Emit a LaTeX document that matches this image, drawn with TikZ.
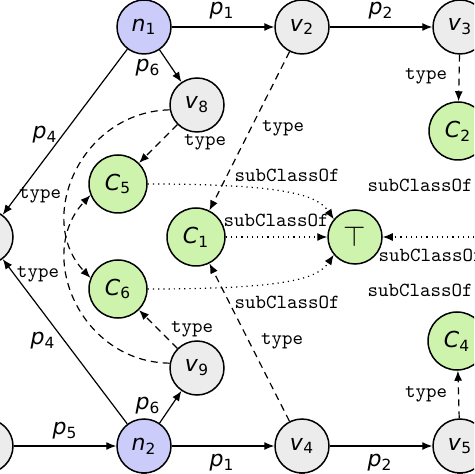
\documentclass[tikz,border=0pt]{standalone}
\usepackage{fontspec}
\setmainfont{DejaVu Sans}
\usetikzlibrary{arrows.meta}
\definecolor{lav}{RGB}{204,204,250}
\definecolor{gfill}{RGB}{236,236,236}
\definecolor{cgreen}{RGB}{206,243,172}
\newcommand\ml[2]{\textit{#1}\textsubscript{#2}}
\begin{document}
\begin{tikzpicture}[x=0.5pt,y=-0.5pt,
  vnode/.style={circle,draw,line width=0.75pt,minimum size=27pt,inner sep=0pt,fill=gfill,font=\fontsize{11}{13}\selectfont},
  cnode/.style={vnode,fill=cgreen,minimum size=29pt},
  nnode/.style={vnode,fill=lav},
  rel/.style={-{Latex[length=5pt,width=4pt]},line width=0.6pt},
  typ/.style={rel,dash pattern=on 3.5pt off 2.5pt},
  sub/.style={rel,dash pattern=on 0.6pt off 2pt},
  stub/.style={line width=3pt,gray!60!black},
  lab/.style={font=\ttfamily\fontsize{10}{12}\selectfont,inner sep=1pt},
  plab/.style={font=\fontsize{11}{13}\selectfont,inner sep=1pt}]
\useasboundingbox (0,0) rectangle (474,474);
\clip (0,0) rectangle (474,474);
% stubs going out of the picture
\draw[stub] (144,10) -- (144,-20);
\draw[stub] (302,10) -- (302,-20);
\draw[stub] (460,10) -- (460,-20);
\draw[stub] (144,460) -- (144,500);
\draw[stub] (302,460) -- (302,500);
\draw[stub] (460,460) -- (460,500);
% nodes
\node[nnode] (n1) at (144,27) {\ml{n}{1}};
\node[vnode] (v2) at (302,27) {\ml{v}{2}};
\node[vnode] (v3) at (460,27) {\ml{v}{3}};
\node[vnode] (v8) at (197,105) {\ml{v}{8}};
\node[cnode] (C2) at (458,131) {\ml{C}{2}};
\node[cnode] (C5) at (118,184) {\ml{C}{5}};
\node[cnode] (C1) at (196,237) {\ml{C}{1}};
\node[cnode,minimum size=27pt,font=\fontsize{15}{15}\selectfont] (T) at (355,237) {$\top$};
\node[vnode] (L) at (-14,237) {};
\node[cnode] (C6) at (118,289) {\ml{C}{6}};
\node[cnode] (C4) at (457,341) {\ml{C}{4}};
\node[vnode] (v9) at (197,368) {\ml{v}{9}};
\node[nnode] (n2) at (144,446) {\ml{n}{2}};
\node[vnode] (BL) at (-14,446) {};
\node[vnode] (v4) at (302,446) {\ml{v}{4}};
\node[vnode] (v5) at (460,446) {\ml{v}{5}};
\coordinate (rt) at (490,237);
% solid edges
\draw[rel] (n1) -- (v2);
\draw[rel] (v2) -- (v3);
\draw[rel] (n1) -- (v8);
\draw[rel] (n1) -- (L);
\draw[rel] (n2) -- (v9);
\draw[rel] (n2) -- (L);
\draw[rel] (BL) -- (n2);
\draw[rel] (n2) -- (v4);
\draw[rel] (v4) -- (v5);
% type edges
\draw[typ] (v8) -- (C5);
\draw[typ] (v9) -- (C6);
\draw[typ] (v2) -- (C1);
\draw[typ] (v4) -- (C1);
\draw[typ] (v3) -- (C2);
\draw[typ] (v5) -- (C4);
\draw[typ] (v8.190) .. controls (80,112) and (35,220) .. (C6.158);
\draw[typ] (v9.170) .. controls (80,362) and (35,254) .. (C5.202);
% subClassOf edges
\draw[sub] (C5.east) .. controls (290,184) and (318,196) .. (T.140);
\draw[sub] (C1) -- (T);
\draw[sub] (C6.east) .. controls (290,289) and (318,278) .. (T.220);
\draw[sub] (rt) -- (T);
% labels
\node[plab] at (222,11) {\ml{p}{1}};
\node[plab] at (381,11) {\ml{p}{2}};
\node[plab] at (148,68) {\ml{p}{6}};
\node[plab] at (45,135) {\ml{p}{4}};
\node[plab] at (43,341) {\ml{p}{4}};
\node[plab] at (148,406) {\ml{p}{6}};
\node[plab] at (65,431) {\ml{p}{5}};
\node[plab] at (222,463) {\ml{p}{1}};
\node[plab] at (380,463) {\ml{p}{2}};
\node[lab] at (205,142) {type};
\node[lab] at (40,195) {type};
\node[lab] at (38,274) {type};
\node[lab] at (192,329) {type};
\node[lab] at (283,128) {type};
\node[lab] at (282,341) {type};
\node[lab] at (426,76) {type};
\node[lab] at (426,394) {type};
\node[lab] at (287,175) {subClassOf};
\node[lab] at (276,220) {subClassOf};
\node[lab] at (287,302) {subClassOf};
\node[lab] at (420,185) {subClassOf};
\node[lab] at (431,255) {subClassOf};
\node[lab] at (420,290) {subClassOf};
\end{tikzpicture}
\end{document}
